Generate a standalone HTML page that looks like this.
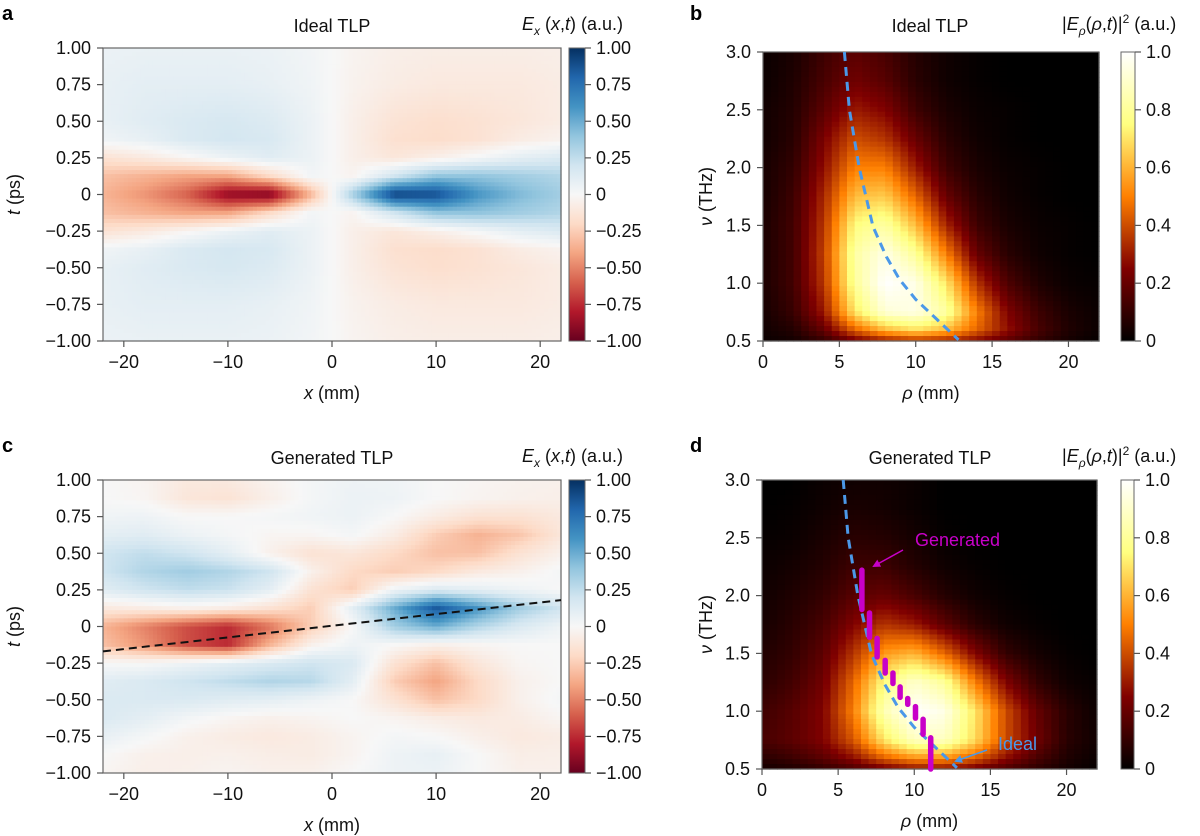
<!DOCTYPE html>
<html><head><meta charset="utf-8"><style>
html,body{margin:0;padding:0;background:#fff;}
svg{display:block;font-family:"Liberation Sans",Arial,sans-serif;}
.tk{font-size:18px;fill:#111;}
.ttl{font-size:18px;fill:#111;}
.lbl{font-weight:bold;font-size:20px;fill:#000;}
</style></head><body>
<svg id="fig" width="1200" height="836" viewBox="0 0 1200 836" xmlns="http://www.w3.org/2000/svg">
<defs id="defs"></defs>
<text class="lbl" x="2" y="20">a</text>
<text class="lbl" x="690" y="20">b</text>
<text class="lbl" x="2" y="452">c</text>
<text class="lbl" x="690" y="452">d</text>
</svg>
<script>
// ---------- DATA ----------
const aX = [-22,-18,-14,-10,-6,-2,0,2,6,10,14,18,22];
const aT = [1,0.75,0.5,0.375,0.25,0.125,0,-0.125,-0.25,-0.375,-0.5,-0.75,-1];
const aVals = [
 [0.06,0.07,0.07,0.07,0.06,0.03,0,-0.03,-0.06,-0.07,-0.07,-0.07,-0.06],
 [0.08,0.1,0.1,0.1,0.08,0.04,0,-0.04,-0.08,-0.1,-0.1,-0.1,-0.08],
 [0.08,0.12,0.15,0.17,0.14,0.06,0,-0.06,-0.14,-0.17,-0.15,-0.12,-0.08],
 [0.04,0.08,0.15,0.18,0.16,0.06,0,-0.06,-0.16,-0.18,-0.15,-0.08,-0.04],
 [-0.15,-0.1,-0.02,0.06,0.12,0.06,0,-0.06,-0.12,-0.06,0.02,0.1,0.15],
 [-0.3,-0.35,-0.4,-0.4,-0.2,0.03,0,-0.03,0.2,0.4,0.4,0.35,0.3],
 [-0.35,-0.45,-0.6,-0.9,-0.95,-0.35,0,0.35,0.95,0.9,0.6,0.45,0.35],
 [-0.3,-0.35,-0.4,-0.4,-0.2,0.03,0,-0.03,0.2,0.4,0.4,0.35,0.3],
 [-0.15,-0.1,-0.02,0.06,0.12,0.06,0,-0.06,-0.12,-0.06,0.02,0.1,0.15],
 [0.04,0.08,0.15,0.18,0.16,0.06,0,-0.06,-0.16,-0.18,-0.15,-0.08,-0.04],
 [0.08,0.12,0.15,0.17,0.14,0.06,0,-0.06,-0.14,-0.17,-0.15,-0.12,-0.08],
 [0.08,0.1,0.1,0.1,0.08,0.04,0,-0.04,-0.08,-0.1,-0.1,-0.1,-0.08],
 [0.06,0.07,0.07,0.07,0.06,0.03,0,-0.03,-0.06,-0.07,-0.07,-0.07,-0.06]
];
const cX = [-22,-18,-14,-10,-6,-2,2,6,10,14,18,22];
const cT = [1,0.875,0.75,0.625,0.5,0.375,0.25,0.125,0,-0.125,-0.25,-0.375,-0.5,-0.625,-0.75,-0.875,-1];
const cVals = [
 [0.0,-0.03,-0.1,-0.1,-0.04,0.02,0.05,0.04,0,-0.02,-0.04,-0.05],
 [0.0,-0.02,-0.12,-0.14,-0.06,0.02,0.06,0.05,0,-0.03,-0.05,-0.06],
 [0.04,0.05,0,0,0.02,0.04,0.06,0,-0.08,-0.15,-0.15,-0.1],
 [0.1,0.12,0.06,0.02,-0.02,-0.02,0.02,-0.08,-0.25,-0.35,-0.28,-0.12],
 [0.2,0.25,0.2,0.1,-0.05,-0.15,-0.12,-0.2,-0.3,-0.3,-0.15,-0.05],
 [0.2,0.3,0.35,0.3,0.2,-0.05,-0.2,-0.25,-0.2,-0.1,-0.05,0.02],
 [0.12,0.2,0.25,0.22,0.1,-0.15,-0.25,0.05,0.15,0.1,0.05,0],
 [-0.1,-0.08,-0.05,-0.08,-0.15,-0.25,0.1,0.5,0.85,0.6,0.35,0.2],
 [-0.35,-0.5,-0.65,-0.75,-0.55,-0.25,0.0,0.35,0.5,0.3,0.15,0.05],
 [-0.3,-0.45,-0.65,-0.75,-0.35,-0.05,0.05,0.0,-0.05,-0.02,0,0],
 [0.0,0.0,0.05,0.1,0.15,0.2,0.15,-0.15,-0.3,-0.12,-0.02,0],
 [0.12,0.15,0.2,0.25,0.3,0.28,0.1,-0.25,-0.4,-0.2,-0.05,0],
 [0.15,0.15,0.15,0.12,0.1,0.05,0,-0.15,-0.3,-0.2,-0.05,0.02],
 [0.15,0.1,0.03,-0.02,-0.05,-0.03,0,-0.03,-0.08,-0.1,-0.08,-0.02],
 [0.08,0.02,-0.05,-0.08,-0.1,-0.08,-0.03,0.02,0,-0.06,-0.1,-0.08],
 [0,-0.05,-0.06,-0.05,-0.07,-0.08,-0.03,0.05,0.08,0,-0.07,-0.06],
 [-0.02,-0.06,-0.05,-0.03,-0.05,-0.05,0,0.05,0.06,0,-0.05,-0.05]
];
const cLineX = [-22,22];
const cLineT = [-0.17,0.18];
const bRho = [0,2,4,6,8,10,12,14,16,18,20,22];
const bNu = [3.0,2.75,2.5,2.25,2.0,1.75,1.5,1.25,1.0,0.75,0.6,0.5];
const bVals = [
 [0.02,0.05,0.12,0.18,0.14,0.07,0.03,0.01,0,0,0,0],
 [0.02,0.06,0.14,0.22,0.17,0.08,0.03,0.01,0,0,0,0],
 [0.03,0.07,0.18,0.3,0.25,0.12,0.05,0.02,0.01,0,0,0],
 [0.03,0.08,0.24,0.4,0.35,0.2,0.08,0.03,0.01,0,0,0],
 [0.04,0.1,0.28,0.5,0.5,0.3,0.12,0.05,0.02,0.01,0,0],
 [0.04,0.12,0.33,0.62,0.65,0.45,0.2,0.08,0.03,0.01,0,0],
 [0.05,0.13,0.36,0.75,0.82,0.62,0.32,0.12,0.05,0.02,0.01,0],
 [0.05,0.13,0.38,0.82,0.95,0.8,0.5,0.2,0.08,0.03,0.01,0],
 [0.05,0.13,0.36,0.8,1.0,0.95,0.7,0.35,0.15,0.06,0.02,0.01],
 [0.04,0.11,0.3,0.7,0.92,0.95,0.82,0.5,0.25,0.12,0.05,0.02],
 [0.03,0.07,0.2,0.45,0.62,0.7,0.62,0.45,0.28,0.14,0.06,0.02],
 [0.02,0.04,0.1,0.22,0.3,0.35,0.32,0.26,0.18,0.1,0.04,0.01]
];
const dVals = [
 [0,0,0.02,0.03,0.03,0.02,0,0,0,0,0,0],
 [0,0.01,0.03,0.05,0.04,0.02,0,0,0,0,0,0],
 [0.01,0.02,0.05,0.08,0.07,0.04,0.01,0,0,0,0,0],
 [0.02,0.04,0.07,0.12,0.12,0.07,0.03,0.01,0,0,0,0],
 [0.03,0.06,0.1,0.17,0.2,0.14,0.07,0.03,0.01,0,0,0],
 [0.04,0.08,0.14,0.25,0.35,0.3,0.18,0.08,0.03,0.01,0,0],
 [0.06,0.1,0.18,0.35,0.55,0.6,0.45,0.25,0.1,0.04,0.01,0],
 [0.08,0.13,0.22,0.45,0.75,0.9,0.8,0.5,0.25,0.1,0.03,0.01],
 [0.12,0.17,0.25,0.5,0.85,1.0,0.95,0.7,0.4,0.2,0.08,0.02],
 [0.14,0.18,0.25,0.42,0.7,0.88,0.88,0.68,0.4,0.22,0.08,0.03],
 [0.08,0.12,0.18,0.28,0.45,0.55,0.55,0.45,0.28,0.15,0.06,0.02],
 [0.04,0.06,0.1,0.15,0.22,0.28,0.28,0.22,0.15,0.09,0.04,0.01]
];
const idealRho = [5.33,5.66,6.3,7.2,8.07,8.95,10.0,11.36,12.8];
const idealNu = [3.0,2.5,2.0,1.49,1.23,1.03,0.86,0.69,0.51];
const genRho = [6.56,7.06,7.56,8.09,8.6,9.07,9.57,10.08,10.58,11.08];
const genTop = [2.22,1.85,1.63,1.44,1.33,1.21,1.11,1.04,0.93,0.77];
const genBot = [1.88,1.64,1.47,1.33,1.24,1.12,1.06,0.94,0.80,0.50];
const exTicks = [-20,-10,0,10,20];
const exTickLabels = ["\u221220","\u221210","0","10","20"];
const tTicks = [1,0.75,0.5,0.25,0,-0.25,-0.5,-0.75,-1];
const tTickLabels = ["1.00","0.75","0.50","0.25","0","\u22120.25","\u22120.50","\u22120.75","\u22121.00"];
const rhoTicks = [0,5,10,15,20];
const rhoTickLabels = ["0","5","10","15","20"];
const nuTicks = [3.0,2.5,2.0,1.5,1.0,0.5];
const nuTickLabels = ["3.0","2.5","2.0","1.5","1.0","0.5"];
const cbTicks2 = [0,0.2,0.4,0.6,0.8,1.0];
const cbTickLabels2 = ["0","0.2","0.4","0.6","0.8","1.0"];

// ---------- HELPERS ----------
const NS = "http://www.w3.org/2000/svg";
const svg = document.getElementById('fig');
const defs = document.getElementById('defs');
function mk(tag, attrs, parent){
  const e = document.createElementNS(NS, tag);
  for (const k in attrs) e.setAttribute(k, attrs[k]);
  (parent||svg).appendChild(e);
  return e;
}
function lin(d0,d1,r0,r1){ return v => r0 + (v-d0)/(d1-d0)*(r1-r0); }
function findIdx(arr, v){
  const asc = arr[arr.length-1] > arr[0];
  for (let i=0;i<arr.length-1;i++){
    const a=arr[i], b=arr[i+1];
    if (asc ? (v>=a && v<=b) : (v<=a && v>=b)) return [i,(v-a)/(b-a)];
  }
  if (asc) return v<arr[0]?[0,0]:[arr.length-2,1];
  return v>arr[0]?[0,0]:[arr.length-2,1];
}
function bilin(xs, ys, g, x, y){
  const [i,fx] = findIdx(xs,x), [j,fy] = findIdx(ys,y);
  const v00=g[j][i], v01=g[j][i+1], v10=g[j+1][i], v11=g[j+1][i+1];
  return (v00*(1-fx)+v01*fx)*(1-fy) + (v10*(1-fx)+v11*fx)*fy;
}
const rdbuStops = ["#67001f","#b2182b","#d6604d","#f4a582","#fddbc7","#f7f7f7","#d1e5f0","#92c5de","#4393c3","#2166ac","#053061"];
function hex(h){ return [parseInt(h.substr(1,2),16),parseInt(h.substr(3,2),16),parseInt(h.substr(5,2),16)]; }
const rdbuRGB = rdbuStops.map(hex);
function rdbu(v){
  v = Math.max(-1,Math.min(1,v));
  const p = (v+1)/2*10, i = Math.min(9,Math.floor(p)), f = p-i;
  const a = rdbuRGB[i], b = rdbuRGB[i+1];
  return `rgb(${Math.round(a[0]+(b[0]-a[0])*f)},${Math.round(a[1]+(b[1]-a[1])*f)},${Math.round(a[2]+(b[2]-a[2])*f)})`;
}
function afmhot(v){
  v = Math.max(0,Math.min(1,v));
  const c = x => Math.round(255*Math.max(0,Math.min(1,x)));
  return `rgb(${c(2*v)},${c(2*v-0.5)},${c(2*v-1)})`;
}
function heatmap(name, box, xd, yd, xs, ys, g, nx, ny, cmap){
  const grp = mk('g', {});
  
  
  const cw = (box.r-box.l)/nx, ch = (box.b-box.t)/ny;
  for (let j=0;j<ny;j++){
    for (let i=0;i<nx;i++){
      const dx = xd[0] + (i+0.5)/nx*(xd[1]-xd[0]);
      const dy = yd[1] - (j+0.5)/ny*(yd[1]-yd[0]);
      const v = bilin(xs, ys, g, dx, dy);
      const r = mk('rect', {x:(box.l+i*cw).toFixed(2), y:(box.t+j*ch).toFixed(2), width:(cw+0.6).toFixed(2), height:(ch+0.6).toFixed(2), fill:cmap(v)}, grp);
      
      
    }
  }
}
function axes(prefix, box, xd, yd, xt, xtl, yt, ytl, xlabel, ylabel, ylabelX){
  const sx = lin(xd[0],xd[1],box.l,box.r), sy = lin(yd[0],yd[1],box.b,box.t);
  const fr = mk('rect', {x:box.l, y:box.t, width:box.r-box.l, height:box.b-box.t, fill:'none', stroke:'#666', 'stroke-width':1.2});
  
  
  xt.forEach((v,k)=>{
    const x = sx(v);
    const tl = mk('line', {x1:x,x2:x,y1:box.b,y2:box.b+6,stroke:'#555','stroke-width':1.2});
    
    
    const tx = mk('text', {x:x, y:box.b+27, 'text-anchor':'middle', class:'tk'});
    tx.textContent = xtl[k];
    
    
  });
  yt.forEach((v,k)=>{
    const y = sy(v);
    const tl = mk('line', {x1:box.l-6,x2:box.l,y1:y,y2:y,stroke:'#555','stroke-width':1.2});
    
    
    const tx = mk('text', {x:box.l-12, y:y+6, 'text-anchor':'end', class:'tk'});
    tx.textContent = ytl[k];
    
    
  });
  const xl = mk('text', {x:(box.l+box.r)/2, y:box.b+58, 'text-anchor':'middle', class:'tk'});
  xl.innerHTML = xlabel;
  
  
  const cy = (box.t+box.b)/2;
  const yl = mk('text', {x:ylabelX, y:cy, 'text-anchor':'middle', class:'tk', transform:`rotate(-90 ${ylabelX} ${cy})`});
  yl.innerHTML = ylabel;
  
  
  return {sx, sy};
}
function colorbar(prefix, cb, cmap, vmin, vmax, ticks, labels){
  const gid = prefix+'-grad';
  const gr = mk('linearGradient', {id:gid, x1:0, y1:1, x2:0, y2:0}, defs);
  for (let k=0;k<=20;k++){
    const v = vmin + (vmax-vmin)*k/20;
    mk('stop', {offset:(k/20), 'stop-color':cmap(v)}, gr);
  }
  const r = mk('rect', {x:cb.l, y:cb.t, width:cb.r-cb.l, height:cb.b-cb.t, fill:`url(#${gid})`, stroke:'#666','stroke-width':1});
  
  
  const sy = lin(vmin,vmax,cb.b,cb.t);
  ticks.forEach((v,k)=>{
    const y = sy(v);
    const tl = mk('line', {x1:cb.r,x2:cb.r+6,y1:y,y2:y,stroke:'#555','stroke-width':1.2});
    
    
    const tx = mk('text', {x:cb.r+11, y:y+6, class:'tk'});
    tx.textContent = labels[k];
    
    
  });
}
function title(name, x, y, html, anchor){
  const t = mk('text', {x:x, y:y, 'text-anchor':anchor||'middle', class:'ttl'});
  t.innerHTML = html;
  
  
}

// ---------- PANEL A ----------
const boxA = {l:103,r:561,t:48,b:341};
heatmap('heatmap-a', boxA, [-22,22], [-1,1], aX, aT, aVals, 110, 72, rdbu);
axes('panel-a', boxA, [-22,22], [-1,1], exTicks, exTickLabels, tTicks, tTickLabels,
  '<tspan font-style="italic">x</tspan> (mm)', '<tspan font-style="italic">t</tspan> (ps)', 20);
colorbar('panel-a', {l:569,r:585,t:48,b:341}, rdbu, -1, 1, tTicks, tTickLabels);
title('panel-a-title', 332, 32, 'Ideal TLP');
title('panel-a-colorbar-title', 522, 30, '<tspan font-style="italic">E</tspan><tspan font-style="italic" font-size="12" dy="5">x</tspan><tspan dy="-5"> (</tspan><tspan font-style="italic">x</tspan>,<tspan font-style="italic">t</tspan>) (a.u.)', 'start');

// ---------- PANEL C ----------
const boxC = {l:103,r:561,t:480,b:773};
heatmap('heatmap-c', boxC, [-22,22], [-1,1], cX, cT, cVals, 110, 72, rdbu);
const axC = axes('panel-c', boxC, [-22,22], [-1,1], exTicks, exTickLabels, tTicks, tTickLabels,
  '<tspan font-style="italic">x</tspan> (mm)', '<tspan font-style="italic">t</tspan> (ps)', 20);
const dl = mk('line', {x1:axC.sx(cLineX[0]), y1:axC.sy(cLineT[0]), x2:axC.sx(cLineX[1]), y2:axC.sy(cLineT[1]), stroke:'#111', 'stroke-width':2, 'stroke-dasharray':'8,5'});


colorbar('panel-c', {l:569,r:585,t:480,b:773}, rdbu, -1, 1, tTicks, tTickLabels);
title('panel-c-title', 332, 464, 'Generated TLP');
title('panel-c-colorbar-title', 522, 462, '<tspan font-style="italic">E</tspan><tspan font-style="italic" font-size="12" dy="5">x</tspan><tspan dy="-5"> (</tspan><tspan font-style="italic">x</tspan>,<tspan font-style="italic">t</tspan>) (a.u.)', 'start');

// ---------- PANEL B ----------
const boxB = {l:763,r:1099,t:52,b:341};
heatmap('heatmap-b', boxB, [0,22], [0.5,3], bRho, bNu, bVals, 44, 58, afmhot);
const axB = axes('panel-b', boxB, [0,22], [0.5,3], rhoTicks, rhoTickLabels, nuTicks, nuTickLabels,
  '<tspan font-style="italic">ρ</tspan> (mm)', '<tspan font-style="italic">ν</tspan> (THz)', 712);
function idealPath(ax, name){
  const pts = idealRho.map((r,k)=> ax.sx(r).toFixed(1)+','+ax.sy(idealNu[k]).toFixed(1)).join(' ');
  const p = mk('polyline', {points:pts, fill:'none', stroke:'#4b98e8', 'stroke-width':3, 'stroke-dasharray':'9,6'});
  
  
}
idealPath(axB, 'panel-b-ideal-curve');
colorbar('panel-b', {l:1121,r:1135,t:52,b:341}, afmhot, 0, 1, cbTicks2, cbTickLabels2);
title('panel-b-title', 930, 32, 'Ideal TLP');
title('panel-b-colorbar-title', 1062, 30, '|<tspan font-style="italic">E</tspan><tspan font-style="italic" font-size="12" dy="5">ρ</tspan><tspan dy="-5">(</tspan><tspan font-style="italic">ρ</tspan>,<tspan font-style="italic">t</tspan>)|<tspan font-size="12" dy="-7">2</tspan><tspan dy="7"> (a.u.)</tspan>', 'start');

// ---------- PANEL D ----------
const boxD = {l:762,r:1097,t:480,b:769};
heatmap('heatmap-d', boxD, [0,22], [0.5,3], bRho, bNu, dVals, 44, 58, afmhot);
const axD = axes('panel-d', boxD, [0,22], [0.5,3], rhoTicks, rhoTickLabels, nuTicks, nuTickLabels,
  '<tspan font-style="italic">ρ</tspan> (mm)', '<tspan font-style="italic">ν</tspan> (THz)', 712);
idealPath(axD, 'panel-d-ideal-curve');
genRho.forEach((r,k)=>{
  const b = mk('line', {x1:axD.sx(r), x2:axD.sx(r), y1:axD.sy(genTop[k]), y2:axD.sy(genBot[k]), stroke:'#c800c8', 'stroke-width':5.5, 'stroke-linecap':'round'});
  
  
});
colorbar('panel-d', {l:1121,r:1134,t:480,b:769}, afmhot, 0, 1, cbTicks2, cbTickLabels2);
title('panel-d-title', 930, 464, 'Generated TLP');
title('panel-d-colorbar-title', 1062, 462, '|<tspan font-style="italic">E</tspan><tspan font-style="italic" font-size="12" dy="5">ρ</tspan><tspan dy="-5">(</tspan><tspan font-style="italic">ρ</tspan>,<tspan font-style="italic">t</tspan>)|<tspan font-size="12" dy="-7">2</tspan><tspan dy="7"> (a.u.)</tspan>', 'start');
mk('marker', {id:'arrM', markerWidth:8, markerHeight:8, refX:6, refY:4, orient:'auto', markerUnits:'userSpaceOnUse'}, defs).appendChild((()=>{const p=document.createElementNS(NS,'path');p.setAttribute('d','M0,0 L8,4 L0,8 Z');p.setAttribute('fill','#c800c8');return p;})());
mk('marker', {id:'arrB', markerWidth:8, markerHeight:8, refX:6, refY:4, orient:'auto', markerUnits:'userSpaceOnUse'}, defs).appendChild((()=>{const p=document.createElementNS(NS,'path');p.setAttribute('d','M0,0 L8,4 L0,8 Z');p.setAttribute('fill','#4b98e8');return p;})());
const ga = mk('line', {x1:903,y1:550,x2:874,y2:566,stroke:'#c800c8','stroke-width':1.5,'marker-end':'url(#arrM)'});


const gt = mk('text', {x:915, y:546, 'font-size':18, fill:'#c800c8'});
gt.textContent = 'Generated';


const ia = mk('line', {x1:987,y1:750,x2:956,y2:761,stroke:'#4b98e8','stroke-width':1.5,'marker-end':'url(#arrB)'});


const it = mk('text', {x:998, y:750, 'font-size':18, fill:'#4b98e8'});
it.textContent = 'Ideal';


</script>
</body></html>
